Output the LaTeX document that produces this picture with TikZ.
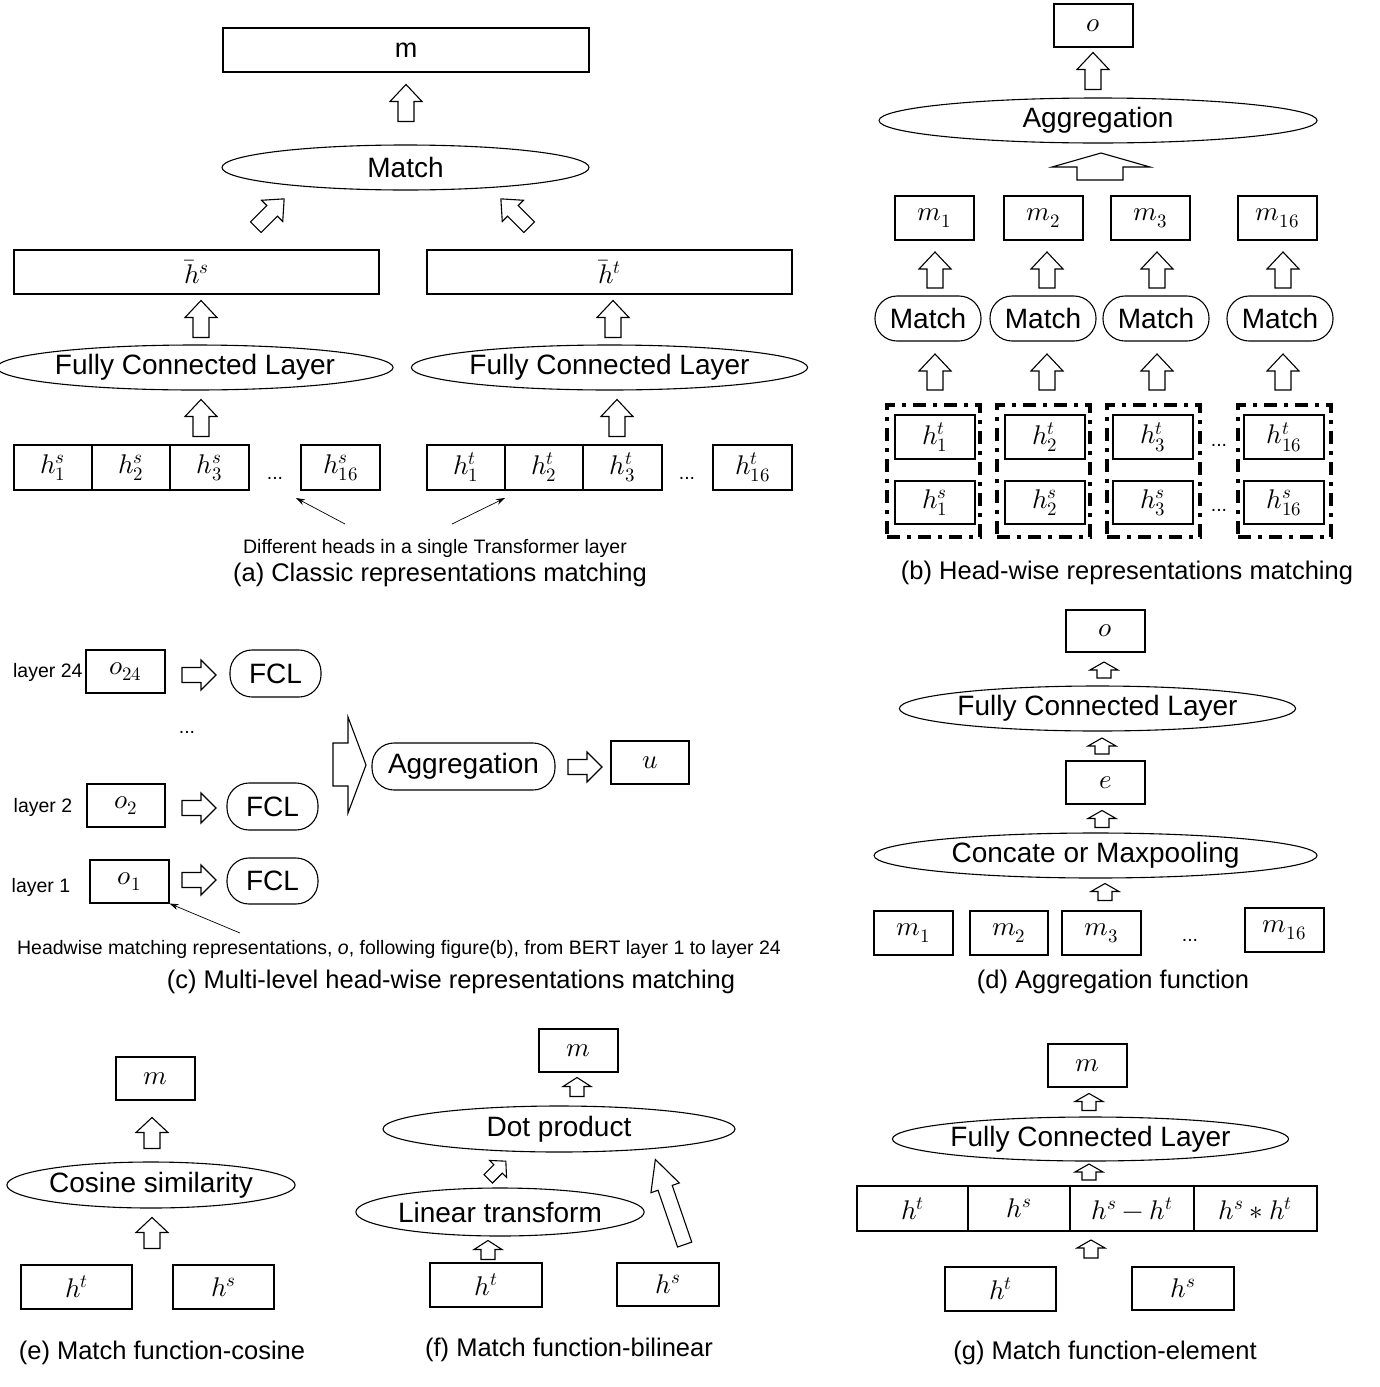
\documentclass[tikz,border=0pt]{standalone}
\usepackage{fontspec}
\setmainfont{Liberation Sans}
\usepackage{unicode-math}
\setmathfont{Latin Modern Math}
\usetikzlibrary{shapes.geometric,arrows.meta}
\newcommand\barr[6]{\draw[blk,shift={(#1,#2)},rotate=#3] ({-#4/2},{-#5/4}) -- ({#4/2-#6},{-#5/4}) -- ({#4/2-#6},{-#5/2}) -- ({#4/2},0) -- ({#4/2-#6},{#5/2}) -- ({#4/2-#6},{#5/4}) -- ({-#4/2},{#5/4}) -- cycle;}
\newcommand\mybox[6]{\node[bx,minimum width={(#4)-(#2)},minimum height={(#5)-(#3)}] (#1) at ({((#2)+(#4))/2},{((#3)+(#5))/2}) {#6};}
\newcommand\myell[6]{\node[el,minimum width={(#4)-(#2)},minimum height={(#5)-(#3)}] (#1) at ({((#2)+(#4))/2},{((#3)+(#5))/2}) {#6};}
\newcommand\mypill[6]{\node[pl,minimum width={(#4)-(#2)},minimum height={(#5)-(#3)}] (#1) at ({((#2)+(#4))/2},{((#3)+(#5))/2}) {#6};}
\begin{document}
\begin{tikzpicture}[x=1pt,y=-1pt,
  blk/.style={draw,line width=1.1pt,fill=white},
  bx/.style={draw,line width=1.1pt,inner sep=0pt,font=\fontsize{27}{30}\selectfont},
  el/.style={draw,ellipse,line width=1.1pt,inner sep=0pt,font=\fontsize{28}{32}\selectfont},
  pl/.style={draw,rounded corners=22pt,line width=1.1pt,inner sep=0pt,font=\fontsize{28}{32}\selectfont},
  dd/.style={draw,line width=4pt,dash pattern=on 13pt off 7pt on 4pt off 7pt,minimum width=93pt,minimum height=132pt,inner sep=0pt},
  captxt/.style={font=\fontsize{25.5}{29}\selectfont},
  sm/.style={font=\fontsize{19.5}{22}\selectfont},
  ptr/.style={-{Stealth[length=9pt,width=6pt]},line width=0.7pt}]
\useasboundingbox (0,0) rectangle (1380,1387);
% ---------- (a)
\mybox{am}{223}{28}{589}{72}{m}
\barr{406}{103}{90}{37}{32}{17}
\myell{amatch}{222}{145}{589}{190}{Match}
\barr{270}{213}{45}{40}{30}{17}
\barr{515}{213}{135}{40}{30}{17}
\mybox{ahs}{14}{250}{379}{294}{$\bar{h}^{s}$}
\mybox{aht}{427}{250}{792}{294}{$\bar{h}^{t}$}
\barr{201}{319}{90}{37}{32}{17}
\barr{613}{319}{90}{37}{32}{17}
\myell{afc1}{12}{345}{378}{390}{Fully Connected Layer}
\myell{afc2}{427}{345}{792}{390}{Fully Connected Layer}
\barr{201}{418}{90}{37}{32}{17}
\barr{617}{418}{90}{37}{32}{17}
\mybox{as1}{14}{445}{92}{490}{$h_1^s$}
\mybox{as2}{92}{445}{170}{490}{$h_2^s$}
\mybox{as3}{170}{445}{249}{490}{$h_3^s$}
\node[sm] (adl) at (275,478) {...};
\mybox{as16}{301}{445}{380}{490}{$h_{16}^s$}
\mybox{at1}{427}{445}{505}{490}{$h_1^t$}
\mybox{at2}{505}{445}{583}{490}{$h_2^t$}
\mybox{at3}{583}{445}{662}{490}{$h_3^t$}
\node[sm] (adr) at (687,478) {...};
\mybox{at16}{713}{445}{792}{490}{$h_{16}^t$}
\coordinate (ap1) at (345,524); \coordinate (ap1e) at (296,498);
\coordinate (ap2) at (452,524); \coordinate (ap2e) at (505,498);
\draw[ptr] (ap1) -- (ap1e);
\draw[ptr] (ap2) -- (ap2e);
\node[sm] (anote) at (435,548) {Different heads in a single Transformer layer};
\node[captxt] (acap) at (440,575) {(a) Classic representations matching};
% ---------- (b)
\mybox{bo}{1054}{4}{1133}{47}{$o$}
\barr{1093}{71}{90}{37}{32}{17}
\myell{bagg}{879}{98}{1317}{143}{Aggregation}
\draw[blk] (1077,180) -- (1077,167) -- (1052,167) -- (1101,153) -- (1150,167) -- (1123,167) -- (1123,180) -- cycle;
\foreach \n/\a/\b/\c in {1/895/974/935,2/1004/1083/1047,3/1111/1190/1157,16/1238/1317/1283}{
  \mybox{bm\n}{\a}{196}{\b}{240}{$m_{\n}$}
  \barr{\c}{270}{90}{36}{32}{17}
  \barr{\c}{372}{90}{36}{32}{17}
}
\mypill{bma1}{875}{296}{981}{341}{Match}
\mypill{bma2}{990}{296}{1096}{341}{Match}
\mypill{bma3}{1103}{296}{1209}{341}{Match}
\mypill{bma16}{1227}{296}{1333}{341}{Match}
\foreach \n/\a/\b/\c in {1/887/980/935,2/997/1089/1045,3/1107/1200/1153,16/1237/1332/1284}{
  \node[dd] (bd\n) at ({(\a+\b)/2},471) {};
  \mybox{bt\n}{\c-40}{415}{\c+40}{459}{$h_{\n}^t$}
  \mybox{bs\n}{\c-40}{481}{\c+40}{524}{$h_{\n}^s$}
}
\node[sm] (bdl1) at (1219,445) {...};
\node[sm] (bdl2) at (1219,510) {...};
\node[captxt] (bcap) at (1127,573) {(b) Head-wise representations matching};
% ---------- (c)
\node[sm,anchor=east] (cl24) at (86,672) {layer 24};
\mybox{co24}{86}{650}{165}{693}{$o_{24}$}
\barr{199}{675}{0}{34}{30}{15}
\mypill{cf24}{230}{650}{321}{697}{FCL}
\node[sm] (cdots) at (187,732) {...};
\node[sm] (cl2) at (43,807) {layer 2};
\mybox{co2}{87}{784}{165}{827}{$o_{2}$}
\barr{199}{808}{0}{34}{30}{15}
\mypill{cf2}{227}{783}{318}{830}{FCL}
\node[sm] (cl1) at (41,887) {layer 1};
\mybox{co1}{90}{860}{169}{903}{$o_{1}$}
\barr{199}{880}{0}{34}{30}{15}
\mypill{cf1}{227}{858}{318}{904}{FCL}
\draw[blk] (333,743) -- (348,743) -- (348,717) -- (366,765) -- (348,813) -- (348,786) -- (333,786) -- cycle;
\mypill{cagg}{372}{743}{555}{790}{Aggregation}
\barr{585}{767}{0}{34}{30}{15}
\mybox{cu}{611}{741}{689}{784}{$u$}
\coordinate (cp) at (240,933);
\draw[ptr] (cp) -- (co1.south east);
\node[sm] (cnote) at (399,949) {Headwise matching representations, \textit{o}, following figure(b), from BERT layer 1 to layer 24};
\node[captxt] (ccap) at (451,982) {(c) Multi-level head-wise representations matching};
% ---------- (d)
\mybox{do}{1066}{610}{1145}{652}{$o$}
\barr{1104}{670}{90}{16}{28}{8}
\myell{dfc}{914}{686}{1281}{731}{Fully Connected Layer}
\barr{1102}{746}{90}{16}{28}{8}
\mybox{de}{1066}{761}{1145}{804}{$e$}
\barr{1102}{819}{90}{17}{28}{8}
\myell{dcon}{874}{833}{1317}{878}{Concate or Maxpooling}
\barr{1105}{892}{90}{17}{28}{8}
\mybox{dm1}{874}{911}{953}{955}{$m_1$}
\mybox{dm2}{970}{911}{1048}{955}{$m_2$}
\mybox{dm3}{1062}{911}{1141}{955}{$m_3$}
\node[sm] (ddl) at (1190,940) {...};
\mybox{dm16}{1245}{908}{1324}{952}{$m_{16}$}
\node[captxt] (dcap) at (1113,982) {(d) Aggregation function};
% ---------- (e)
\mybox{em}{116}{1057}{195}{1100}{$m$}
\barr{152}{1133}{90}{31}{32}{15}
\myell{ecos}{20}{1162}{282}{1208}{Cosine similarity}
\barr{152}{1233}{90}{31}{32}{15}
\mybox{eht}{21}{1265}{132}{1309}{$h^t$}
\mybox{ehs}{173}{1265}{274}{1309}{$h^s$}
\node[captxt] (ecap) at (162,1353) {(e) Match function-cosine};
% ---------- (f)
\mybox{fm}{539}{1029}{618}{1072}{$m$}
\barr{577}{1087}{90}{19}{28}{9}
\myell{fdot}{383}{1106}{735}{1152}{Dot product}
\barr{497}{1170}{45}{25}{24}{11}
\myell{flin}{381}{1188}{619}{1236}{Linear transform}
\barr{488}{1250}{90}{19}{28}{9}
\mybox{fht}{430}{1263}{542}{1307}{$h^t$}
\mybox{fhs}{617}{1263}{719}{1306}{$h^s$}
\barr{670}{1202}{109}{90}{30}{30}
\node[captxt] (fcap) at (569,1350) {(f) Match function-bilinear};
% ---------- (g)
\mybox{gm}{1048}{1044}{1127}{1087}{$m$}
\barr{1089}{1102}{90}{17}{28}{8}
\myell{gfc}{907}{1117}{1274}{1161}{Fully Connected Layer}
\barr{1089}{1172}{90}{16}{28}{8}
\mybox{g1}{857}{1186}{968}{1231}{$h^t$}
\mybox{g2}{968}{1186}{1070}{1231}{$h^s$}
\mybox{g3}{1070}{1186}{1194}{1231}{$h^s-h^t$}
\mybox{g4}{1194}{1186}{1317}{1231}{$h^s\ast h^t$}
\barr{1091}{1249}{90}{18}{28}{8}
\mybox{ght}{945}{1267}{1056}{1311}{$h^t$}
\mybox{ghs}{1132}{1267}{1234}{1310}{$h^s$}
\node[captxt] (gcap) at (1105,1353) {(g) Match function-element};
\end{tikzpicture}
\end{document}
